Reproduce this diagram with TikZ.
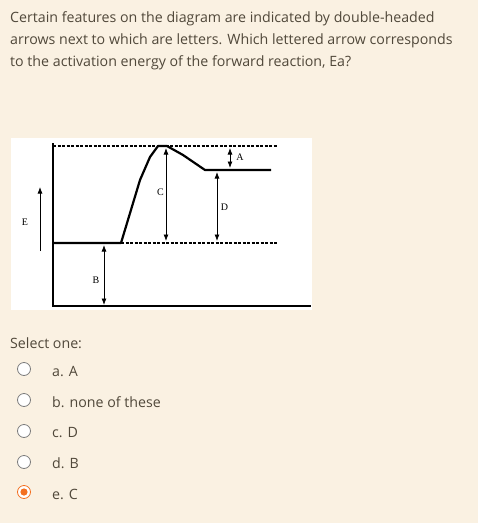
\documentclass[tikz,border=0pt]{standalone}
\usepackage{fontspec}
\setmainfont{Open Sans}
\newfontfamily\plotfont{Liberation Serif}
\usetikzlibrary{arrows.meta}

\definecolor{pagebg}{RGB}{250,241,226}
\definecolor{qtext}{RGB}{80,72,58}
\definecolor{radioline}{RGB}{125,125,125}
\definecolor{pick}{RGB}{243,112,33}

\tikzset{
  qline/.style={anchor=base west, inner sep=0pt, text=qtext, font=\fontsize{14.2}{16}\selectfont},
  letter/.style={inner sep=0pt, font=\plotfont\fontsize{10}{11}\selectfont},
  level/.style={line width=2.2pt, line join=round},
  axis/.style={line width=1.3pt},
  guide/.style={line width=1.6pt, dash pattern=on 3pt off 1.5pt},
  gap/.style={line width=0.8pt, {Latex[length=6.5pt,width=5pt]}-{Latex[length=6.5pt,width=5pt]}},
  radio/.style={circle, draw=radioline, fill=white, line width=0.8pt, minimum size=13pt, inner sep=0pt},
}

\begin{document}
\begin{tikzpicture}[x=1pt, y=-1pt]

\fill[pagebg] (0,0) rectangle (478,523);
\useasboundingbox (0,0) rectangle (478,523);

% question
\node[qline] (q1) at (10,22) {Certain features on the diagram are indicated by double-headed};
\node[qline] (q2) at (10,44) {arrows next to which are letters. Which lettered arrow corresponds};
\node[qline] (q3) at (10,66) {to the activation energy of the forward reaction, Ea?};

% energy diagram
\fill[white] (11,138) rectangle (312,310);

\coordinate (axtop) at (53,143);
\coordinate (axbot) at (53,306);
\coordinate (axend) at (311,306);
\draw[axis] (axtop) -- (axbot) -- (axend);

\coordinate (react0) at (53,243);
\coordinate (react1) at (121,243);
\coordinate (peak0) at (158,146);
\coordinate (peak1) at (167,146);
\coordinate (prod0) at (205,170);
\coordinate (prod1) at (271,170);
\draw[level] (react0) -- (react1) -- (140,180) -- (150,157) -- (peak0) -- (peak1)
  -- (183,155) -- (prod0) -- (prod1);

\draw[guide] (53,146) -- (278,146);
\draw[guide] (react1) -- (278,243);

\coordinate (atop) at (230,148);
\coordinate (abot) at (230,168);
\coordinate (ctop) at (166,148);
\coordinate (cbot) at (166,241);
\coordinate (dtop) at (217,172);
\coordinate (dbot) at (217,241);
\coordinate (btop) at (104,245);
\coordinate (bbot) at (104,305);
\coordinate (ebot) at (40,251);
\coordinate (etop) at (40,187);
\draw[gap] (atop) -- (abot);
\draw[gap] (ctop) -- (cbot);
\draw[gap] (dtop) -- (dbot);
\draw[gap] (btop) -- (bbot);
\draw[line width=0.8pt, -{Latex[length=6.5pt,width=5pt]}] (ebot) -- (etop);

\node[letter] (la) at (240,157) {A};
\node[letter] (lc) at (160.5,192) {C};
\node[letter] (ld) at (224.5,207) {D};
\node[letter] (lb) at (96,280) {B};
\node[letter] (le) at (25,222) {E};

% answers
\node[qline] (sel) at (10,348) {Select one:};

\node[radio] (ra) at (24,369) {};
\node[radio] (rb) at (24,400) {};
\node[radio] (rc) at (24,431) {};
\node[radio] (rd) at (24,462) {};
\node[radio, draw=pick] (re) at (24,492) {};
\fill[pick] (re.center) circle (3.6);

\node[qline] (oa) at (52,376) {a. A};
\node[qline] (ob) at (52,407) {b. none of these};
\node[qline] (oc) at (52,437) {c. D};
\node[qline] (od) at (52,468) {d. B};
\node[qline] (oe) at (52,499) {e. C};

\end{tikzpicture}
\end{document}
